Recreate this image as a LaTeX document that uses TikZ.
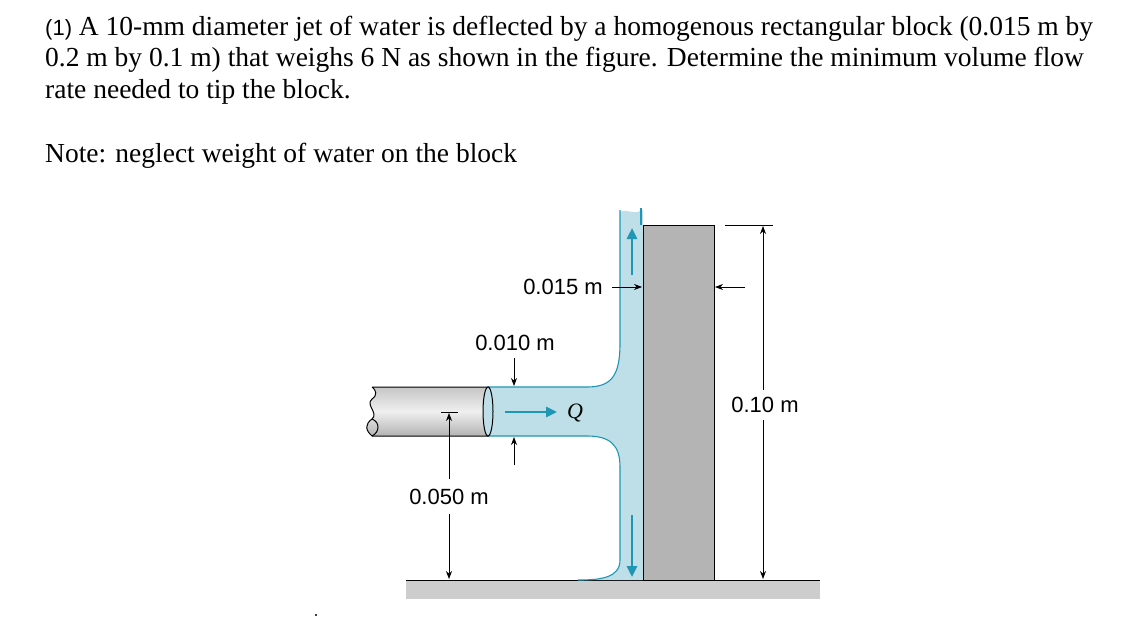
\documentclass[tikz,border=0pt]{standalone}
\usepackage{fontspec}
\setmainfont{Liberation Serif}
\newfontfamily\lab{Liberation Sans}
\usetikzlibrary{arrows.meta}
\definecolor{water}{RGB}{190,222,232}
\definecolor{wline}{RGB}{30,150,180}
\definecolor{blockg}{RGB}{180,180,180}
\definecolor{groundg}{RGB}{205,205,205}
\begin{document}
\begin{tikzpicture}[x=1pt,y=-1pt,
  txt/.style={anchor=base west,font=\fontsize{27.5}{30}\selectfont,inner sep=0},
  dim/.style={font=\lab\fontsize{22}{24}\selectfont,inner sep=1pt},
  dl/.style={black,line width=0.7pt},
  da/.style={dl,-{Stealth[length=8pt,width=6pt]}},
  ba/.style={wline,line width=2.6pt,-{Triangle[length=11pt,width=10pt]}}]
\useasboundingbox (0,0) rectangle (1142,632);
% text
\node[txt] (t1) at (45,35) {{\lab\fontsize{22}{24}\selectfont(1)} A 10-mm diameter jet of water is deflected by a homogenous rectangular block (0.015 m by};
\node[txt] (t2) at (45,66) {0.2 m by 0.1 m) that weighs 6 N as shown in the figure. Determine the minimum volume flow};
\node[txt] (t3) at (45,98) {rate needed to tip the block.};
\node[txt] (t4) at (45,162) {Note: neglect weight of water on the block};
% ground
\fill[groundg] (406,580) rectangle (820,599);
\draw[line width=1pt] (406,580) -- (820,580);
% water
\fill[water] (488,387) -- (587,387) .. controls (612,387) and (620,375) .. (620,343)
  -- (620,212) .. controls (628,208) and (634,216) .. (641,210) -- (643,210) -- (643,580) -- (578,580)
  .. controls (600,580) and (620,578) .. (620,560) -- (620,467)
  .. controls (620,445) and (610,436) .. (587,436) -- (488,436) -- cycle;
\draw[wline,line width=1.1pt] (488,387) -- (587,387) .. controls (612,387) and (620,375) .. (620,343) -- (620,210);
\draw[wline,line width=1.1pt] (488,436) -- (587,436) .. controls (610,436) and (620,445) .. (620,467) -- (620,560) .. controls (620,578) and (600,580) .. (578,580);
\draw[wline,line width=1.1pt] (641,208) -- (641,225);
% pipe
\shade[top color=gray!45,bottom color=gray!60,middle color=gray!12,draw=black,line width=1pt]
  (372,387) -- (488,387) -- (488,436) -- (372,436)
  .. controls (365,430) and (365,424) .. (372,419) .. controls (379,413) and (365,405) .. (372,399) .. controls (378,395) and (376,390) .. (372,387);
\draw[line width=1pt,fill=water] (488,411.5) ellipse[x radius=5,y radius=24.5];
\draw[line width=1pt] (372,436) .. controls (380,432) and (380,422) .. (372,419);
% block
\draw[fill=blockg,line width=1pt] (643,225) rectangle (714,580);
% blue arrows
\draw[ba] (632,275) -- (632,228);
\draw[ba] (632,515) -- (632,577);
\draw[ba] (505,412) -- (557,412);
\node[inner sep=0,font=\fontsize{22}{24}\selectfont\itshape] (Q) at (575,413) {Q};
% 0.015
\node[dim] (l015) at (563,287) {0.015 m};
\draw[da] (612,287) -- (642,287);
\draw[da] (745,287) -- (715,287);
% 0.010
\node[dim] (l010) at (515,343) {0.010 m};
\draw[da] (514,358) -- (514,386);
\draw[da] (514,465) -- (514,437);
% 0.050
\node[dim] (l050) at (449,497) {0.050 m};
\draw[dl] (441,412) -- (458,412);
\draw[da] (449,479) -- (449,413);
\draw[da] (449,514) -- (449,579);
% 0.10
\node[dim] (l10) at (765,405) {0.10 m};
\draw[dl] (725,225) -- (773,225);
\draw[da] (763,390) -- (763,226);
\draw[da] (763,420) -- (763,579);
\fill (316,615) circle (1.2);
\end{tikzpicture}
\end{document}
